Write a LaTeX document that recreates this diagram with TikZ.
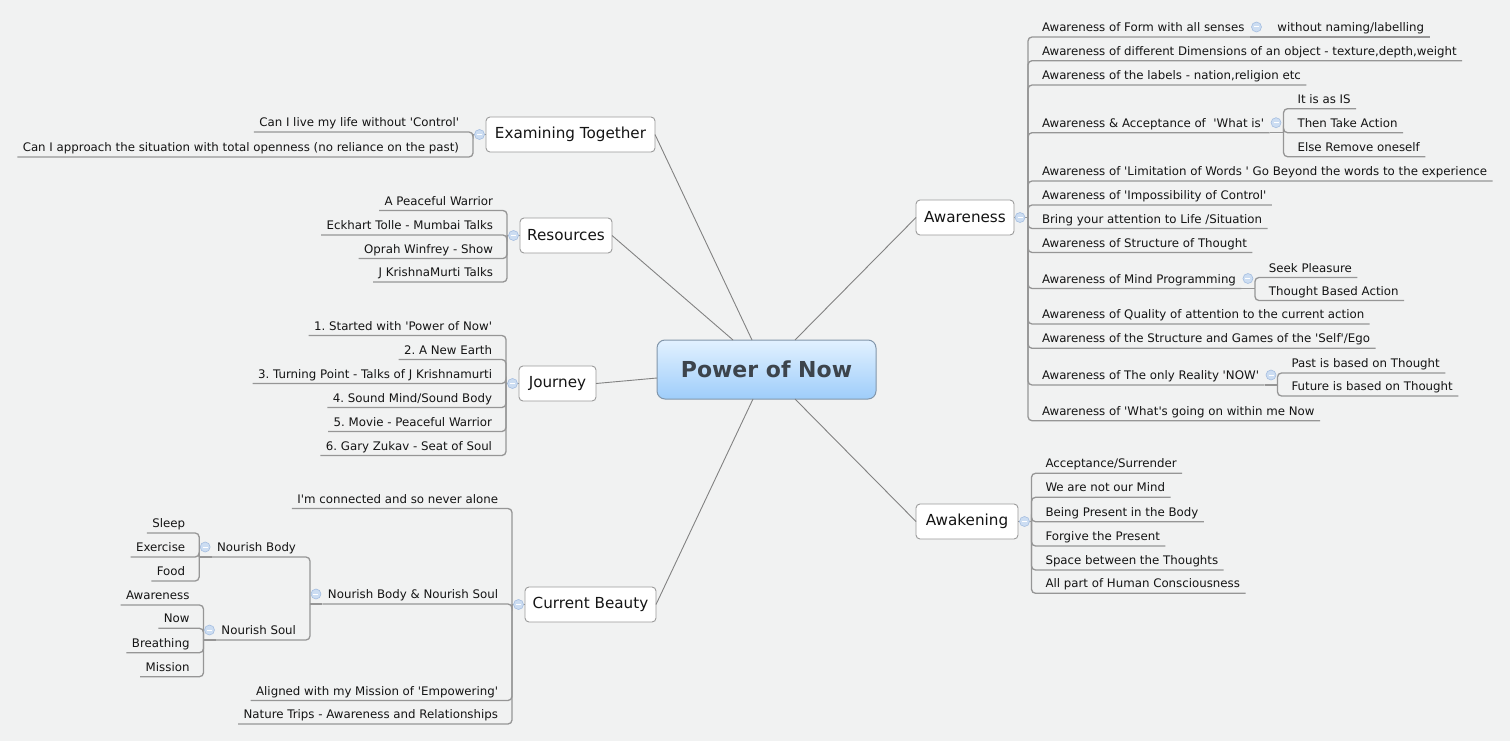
\documentclass[tikz,border=0pt]{standalone}
\usepackage{fontspec}
\newfontfamily\uf{DejaVu Sans}
\usetikzlibrary{calc}
\definecolor{bgc}{RGB}{241,242,242}
\definecolor{txt}{RGB}{20,20,20}
\definecolor{lnc}{RGB}{150,150,150}
\definecolor{cnc}{RGB}{130,130,130}
\definecolor{boxc}{RGB}{155,155,155}
\definecolor{colfill}{RGB}{204,221,242}
\definecolor{colbord}{RGB}{165,190,224}
\definecolor{ctop}{RGB}{226,241,255}
\definecolor{cbot}{RGB}{158,205,250}
\definecolor{cbord}{RGB}{130,150,170}
\definecolor{ctext}{RGB}{61,68,76}
\tikzset{
  subbase/.style={font=\uf\fontsize{11.8}{14}\selectfont, text=txt, text height=8.5pt, text depth=2.5pt, inner ysep=3pt, inner xsep=5.5pt, outer sep=0pt},
  subR/.style={subbase, anchor=south west},
  subL/.style={subbase, anchor=south east},
  br/.style={draw=lnc, line width=1.3pt, rounded corners=4pt},
  conn/.style={draw=cnc, line width=0.9pt},
  topic/.style={draw=boxc, fill=white, rounded corners=4pt, minimum height=35pt, inner xsep=4pt, line width=0.9pt, font=\uf\fontsize{15.2}{18}\selectfont, text=txt, outer sep=0pt},
  central/.style={draw=cbord, top color=ctop, bottom color=cbot, rounded corners=8pt, minimum width=219pt, minimum height=59pt, line width=1pt, font=\uf\bfseries\fontsize{22}{26}\selectfont, text=ctext, outer sep=0pt},
  col/.style={circle, minimum size=10pt, inner sep=0pt, fill=colfill, draw=colbord, line width=0.6pt,
    path picture={\draw[white, line width=1pt] ([xshift=2.5pt]path picture bounding box.west) -- ([xshift=-2.5pt]path picture bounding box.east);}}
}
\begin{document}
\frenchspacing
\begin{tikzpicture}[x=1pt, y=-1pt]
\fill[bgc] (0,0) rectangle (1510,741);
\useasboundingbox (0,0) rectangle (1510,741);

% central and main topics
\node[central] (pw) at (766.5,369.5) {Power of Now};
\node[topic, anchor=east, minimum width=169pt] (et) at (655,134.5) {Examining Together};
\node[topic, anchor=east, minimum width=92pt] (res) at (612,235.5) {Resources};
\node[topic, anchor=east, minimum width=77pt] (jo) at (596,383.5) {Journey};
\node[topic, anchor=east, minimum width=131pt] (cb) at (656,604.5) {Current Beauty};
\node[topic, anchor=west, minimum width=98pt] (aw) at (916,217.5) {Awareness};
\node[topic, anchor=west, minimum width=102pt] (ak) at (916,521.5) {Awakening};

\coordinate (pET) at ($(pw.north west)+(95,0)$);
\coordinate (pRS) at ($(pw.north west)+(76,0)$);
\coordinate (pAW) at ($(pw.north west)+(138,0)$);
\coordinate (pJO) at ($(pw.west)+(0,8.5)$);
\coordinate (pCB) at ($(pw.south west)+(96,0)$);
\coordinate (pAK) at ($(pw.south west)+(138,0)$);
\draw[conn] (pET) -- (et.east);
\draw[conn] (pRS) -- (res.east);
\draw[conn] (pAW) -- (aw.west);
\draw[conn] (pJO) -- (jo.east);
\draw[conn] (pCB) -- (cb.east);
\draw[conn] (pAK) -- (ak.west);

% ---------- Examining Together
\coordinate (etJ) at (473,134.5);
\node[subL] (et1) at (464.5,132) {Can I live my life without 'Control'};
\node[subL] (et2) at (464.5,157) {Can I approach the situation with total openness (no reliance on the past)};
\draw[br] (et.west) -- (etJ);
\foreach \n in {et1,et2} \draw[br] (etJ) |- (\n.south west);

% ---------- Resources
\coordinate (resJ) at (507,235.5);
\node[subL] (r1) at (498.5,210.5) {A Peaceful Warrior};
\node[subL] (r2) at (498.5,235) {Eckhart Tolle - Mumbai Talks};
\node[subL] (r3) at (498.5,258.5) {Oprah Winfrey - Show};
\node[subL] (r4) at (498.5,282) {J KrishnaMurti Talks};
\draw[br] (res.west) -- (resJ);
\foreach \n in {r1,r2,r3,r4} \draw[br] (resJ) |- (\n.south west);

% ---------- Journey
\coordinate (joJ) at (506,383.5);
\node[subL] (j1) at (497.5,335.5) {1. Started with 'Power of Now'};
\node[subL] (j2) at (497.5,359.5) {2. A New Earth};
\node[subL] (j3) at (497.5,383.5) {3. Turning Point - Talks of J Krishnamurti};
\node[subL] (j4) at (497.5,407.5) {4. Sound Mind/Sound Body};
\node[subL] (j5) at (497.5,431.5) {5. Movie - Peaceful Warrior};
\node[subL] (j6) at (497.5,455.5) {6. Gary Zukav - Seat of Soul};
\draw[br] (jo.west) -- (joJ);
\foreach \n in {j1,j2,j3,j4,j5,j6} \draw[br] (joJ) |- (\n.south west);

% ---------- Current Beauty
\coordinate (cbJ) at (512,604.5);
\node[subL] (c1) at (503.5,508.5) {I'm connected and so never alone};
\node[subL] (c2) at (503.5,604) {Nourish Body \& Nourish Soul};
\node[subL] (c3) at (503.5,700.5) {Aligned with my Mission of 'Empowering'};
\node[subL] (c4) at (503.5,724) {Nature Trips - Awareness and Relationships};
\draw[br] (cb.west) -- (cbJ);
\foreach \n in {c1,c2,c3,c4} \draw[br] (cbJ) |- (\n.south west);

\coordinate (c2J) at ($(c2.south west)+(-12.5,0)$);
\node[subL] (nb) at ($(c2J)+(-8.5,-47)$) {Nourish Body};
\node[subL] (ns) at ($(c2J)+(-8.5,36)$) {Nourish Soul};
\foreach \n in {nb,ns} \draw[br] (c2J) |- (\n.south west);
\draw[br] (c2J) -- (c2.south west);

\coordinate (nbJ) at ($(nb.south west)+(-12.5,0)$);
\node[subL] (nb1) at ($(nbJ)+(-8.5,-24)$) {Sleep};
\node[subL] (nb2) at ($(nbJ)+(-8.5,0)$) {Exercise};
\node[subL] (nb3) at ($(nbJ)+(-8.5,24)$) {Food};
\draw[br] (nbJ) -- (nb.south west);
\foreach \n in {nb1,nb2,nb3} \draw[br] (nbJ) |- (\n.south west);

\coordinate (nsJ) at ($(ns.south west)+(-12.5,0)$);
\node[subL] (ns1) at ($(nsJ)+(-8.5,-35)$) {Awareness};
\node[subL] (ns2) at ($(nsJ)+(-8.5,-11.7)$) {Now};
\node[subL] (ns3) at ($(nsJ)+(-8.5,12.7)$) {Breathing};
\node[subL] (ns4) at ($(nsJ)+(-8.5,36.7)$) {Mission};
\draw[br] (nsJ) -- (ns.south west);
\foreach \n in {ns1,ns2,ns3,ns4} \draw[br] (nsJ) |- (\n.south west);

% ---------- Awareness
\coordinate (awJ) at (1028,217.5);
\node[subR] (a1) at (1036.5,37) {Awareness of Form with all senses};
\node[subR] (a2) at (1036.5,60.7) {Awareness of different Dimensions of an object - texture,depth,weight};
\node[subR] (a3) at (1036.5,85) {Awareness of the labels - nation,religion etc};
\node[subR] (a4) at (1036.5,132.7) {Awareness \& Acceptance of\ \ 'What is'};
\node[subR] (a5) at (1036.5,181) {Awareness of 'Limitation of Words ' Go Beyond the words to the experience};
\node[subR] (a6) at (1036.5,205) {Awareness of 'Impossibility of Control'};
\node[subR] (a7) at (1036.5,228.5) {Bring your attention to Life /Situation};
\node[subR] (a8) at (1036.5,252.5) {Awareness of Structure of Thought};
\node[subR] (a9) at (1036.5,288.5) {Awareness of Mind Programming};
\node[subR] (a10) at (1036.5,324) {Awareness of Quality of attention to the current action};
\node[subR] (a11) at (1036.5,348.3) {Awareness of the Structure and Games of the 'Self'/Ego};
\node[subR] (a12) at (1036.5,385) {Awareness of The only Reality 'NOW'};
\node[subR] (a13) at (1036.5,420.7) {Awareness of 'What's going on within me Now};
\draw[br] (aw.east) -- (awJ);
\foreach \n in {a1,a2,a3,a4,a5,a6,a7,a8,a9,a10,a11,a12,a13} \draw[br] (awJ) |- (\n.south east);

\coordinate (a1J) at ($(a1.south east)+(13.5,0)$);
\node[subR] (a1a) at ($(a1J)+(8.5,0)$) {without naming/labelling};
\draw[br] (a1.south east) -- (a1J) -- (a1a.south east);

\coordinate (a4J) at ($(a4.south east)+(14,0)$);
\node[subR] (a4a) at ($(a4J)+(8.5,-24)$) {It is as IS};
\node[subR] (a4b) at ($(a4J)+(8.5,0)$) {Then Take Action};
\node[subR] (a4c) at ($(a4J)+(8.5,24)$) {Else Remove oneself};
\draw[br] (a4.south east) -- (a4J);
\foreach \n in {a4a,a4b,a4c} \draw[br] (a4J) |- (\n.south east);

\coordinate (a9J) at ($(a9.south east)+(13.5,0)$);
\node[subR] (a9a) at ($(a9J)+(8.5,-11)$) {Seek Pleasure};
\node[subR] (a9b) at ($(a9J)+(8.5,12)$) {Thought Based Action};
\draw[br] (a9.south east) -- (a9J);
\foreach \n in {a9a,a9b} \draw[br] (a9J) |- (\n.south east);

\coordinate (a12J) at ($(a12.south east)+(13,0)$);
\node[subR] (a12a) at ($(a12J)+(8.5,-12)$) {Past is based on Thought};
\node[subR] (a12b) at ($(a12J)+(8.5,11)$) {Future is based on Thought};
\draw[br] (a12.south east) -- (a12J);
\foreach \n in {a12a,a12b} \draw[br] (a12J) |- (\n.south east);

% ---------- Awakening
\coordinate (akJ) at (1031.5,521.5);
\node[subR] (k1) at (1040,473.3) {Acceptance/Surrender};
\node[subR] (k2) at (1040,497.3) {We are not our Mind};
\node[subR] (k3) at (1040,521.7) {Being Present in the Body};
\node[subR] (k4) at (1040,546) {Forgive the Present};
\node[subR] (k5) at (1040,570) {Space between the Thoughts};
\node[subR] (k6) at (1040,593.3) {All part of Human Consciousness};
\draw[br] (ak.east) -- (akJ);
\foreach \n in {k1,k2,k3,k4,k5,k6} \draw[br] (akJ) |- (\n.south east);

% ---------- collapse markers
\node[col] (etC) at ($(et.west)+(-6.5,0)$) {};
\node[col] (resC) at ($(res.west)+(-6.5,0)$) {};
\node[col] (joC) at ($(jo.west)+(-6.5,0)$) {};
\node[col] (cbC) at ($(cb.west)+(-6.5,0)$) {};
\node[col] (awC) at ($(aw.east)+(6,0)$) {};
\node[col] (akC) at ($(ak.east)+(6.5,0)$) {};
\node[col] (c2C) at ($(c2.west)+(-6.5,-1.5)$) {};
\node[col] (nbC) at ($(nb.west)+(-6.5,-1.5)$) {};
\node[col] (nsC) at ($(ns.west)+(-6.5,-1.5)$) {};
\node[col] (a1C) at ($(a1.east)+(6.5,-1.5)$) {};
\node[col] (a4C) at ($(a4.east)+(6.5,-1.5)$) {};
\node[col] (a9C) at ($(a9.east)+(6.5,-1.5)$) {};
\node[col] (a12C) at ($(a12.east)+(6.5,-1.5)$) {};
\end{tikzpicture}
\end{document}
